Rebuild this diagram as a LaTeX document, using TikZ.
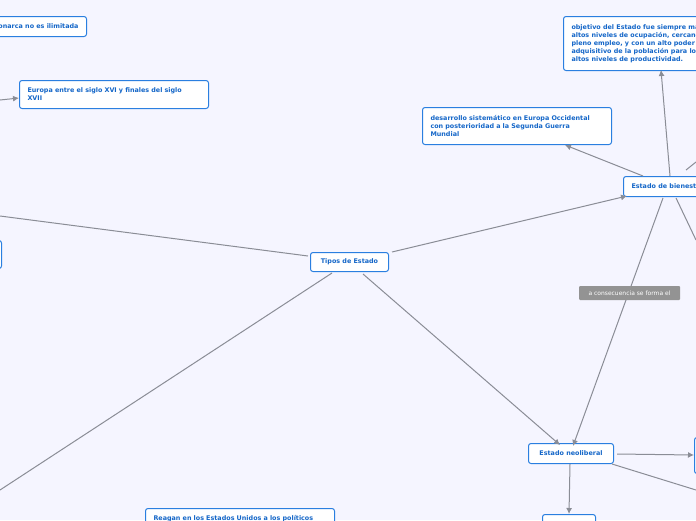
\documentclass[tikz,border=0pt]{standalone}
\usepackage{fontspec}
\setmainfont{DejaVu Sans}
\usetikzlibrary{arrows.meta}
\definecolor{bblue}{HTML}{2A7FE0}
\definecolor{tblue}{HTML}{1466C8}
\definecolor{lgray}{HTML}{8A8D96}
\tikzset{
 box/.style={draw=bblue, line width=1pt, rounded corners=2.5pt, fill=white, text=tblue, font=\bfseries\fontsize{6.4}{8}\selectfont, align=left, inner xsep=8pt, inner ysep=4pt, anchor=north west},
 con/.style={draw=lgray, line width=1pt},
 arr/.style={con, -{Latex[length=6pt,width=6pt]}},
}
\begin{document}
\begin{tikzpicture}[x=1pt,y=-1pt]
\fill[blue!4!white] (0,0) rectangle (696,520);
\useasboundingbox (0,0) rectangle (696,520);
\clip (0,0) rectangle (696,520);
\node[box, text width=173pt, minimum height=28pt] (eur) at (19,80) {Europa entre el siglo XVI y finales del siglo\\XVII};
\node[box, anchor=north east, minimum height=20pt] (mon) at (87,16) {El poder del monarca no es ilimitada};
\node[box, anchor=north east, minimum height=28pt, minimum width=40pt] (lft) at (2,240) {};
\node[box, minimum height=19pt, minimum width=78pt, align=center] (tip) at (310,252) {Tipos de Estado};
\node[box, text width=173pt, minimum height=37pt] (des) at (422,107) {desarrollo sistemático en Europa Occidental\\con posterioridad a la Segunda Guerra\\Mundial};
\node[box, minimum height=54pt] (obj) at (563,16) {objetivo del Estado fue siempre mantener\\altos niveles de ocupación, cercanos al\\pleno empleo, y con un alto poder\\adquisitivo de la población para lograr\\altos niveles de productividad.};
\node[box, minimum height=20pt] (bie) at (623,176) {Estado de bienestar};
\node[box, minimum height=20pt, minimum width=85pt] (neo) at (528,443) {Estado neoliberal};
\node[box, minimum height=36pt, minimum width=40pt] (rgt) at (694,437) {};
\node[box, minimum height=20pt, minimum width=53pt] (bot) at (542,514) {};
\node[box, text width=173pt, minimum height=20pt] (rea) at (145,508) {Reagan en los Estados Unidos a los políticos};
\coordinate (l1) at (0,100);
\coordinate (l2) at (0,216);
\coordinate (l3) at (0,490);
\coordinate (r1) at (696,162);
\coordinate (r2) at (696,240);
\coordinate (r3) at (696,490);
\draw[arr] (l1) -- (eur.west |- 0,98);
\draw[con] (l2) -- (308,256);
\draw[arr] (392,252) -- (627,196);
\draw[con] (332,273) -- (l3);
\draw[arr] (363,274) -- (560,445);
\draw[arr] (663,198) -- (573,446);
\node[fill=gray!85, text=white, font=\fontsize{6}{7}\selectfont, rounded corners=1pt, minimum width=101pt, minimum height=14pt, inner sep=2pt] (lab) at (629.5,293) {a consecuencia se forma el};
\draw[arr] (643,176) -- (565,145);
\draw[arr] (670,176) -- (661,70);
\draw[con] (686,170) -- (r1);
\draw[con] (676,198) -- (r2);
\draw[arr] (617,454) -- (694,455);
\draw[con] (612,464) -- (r3);
\draw[arr] (570,464) -- (569,514);
\end{tikzpicture}
\end{document}
